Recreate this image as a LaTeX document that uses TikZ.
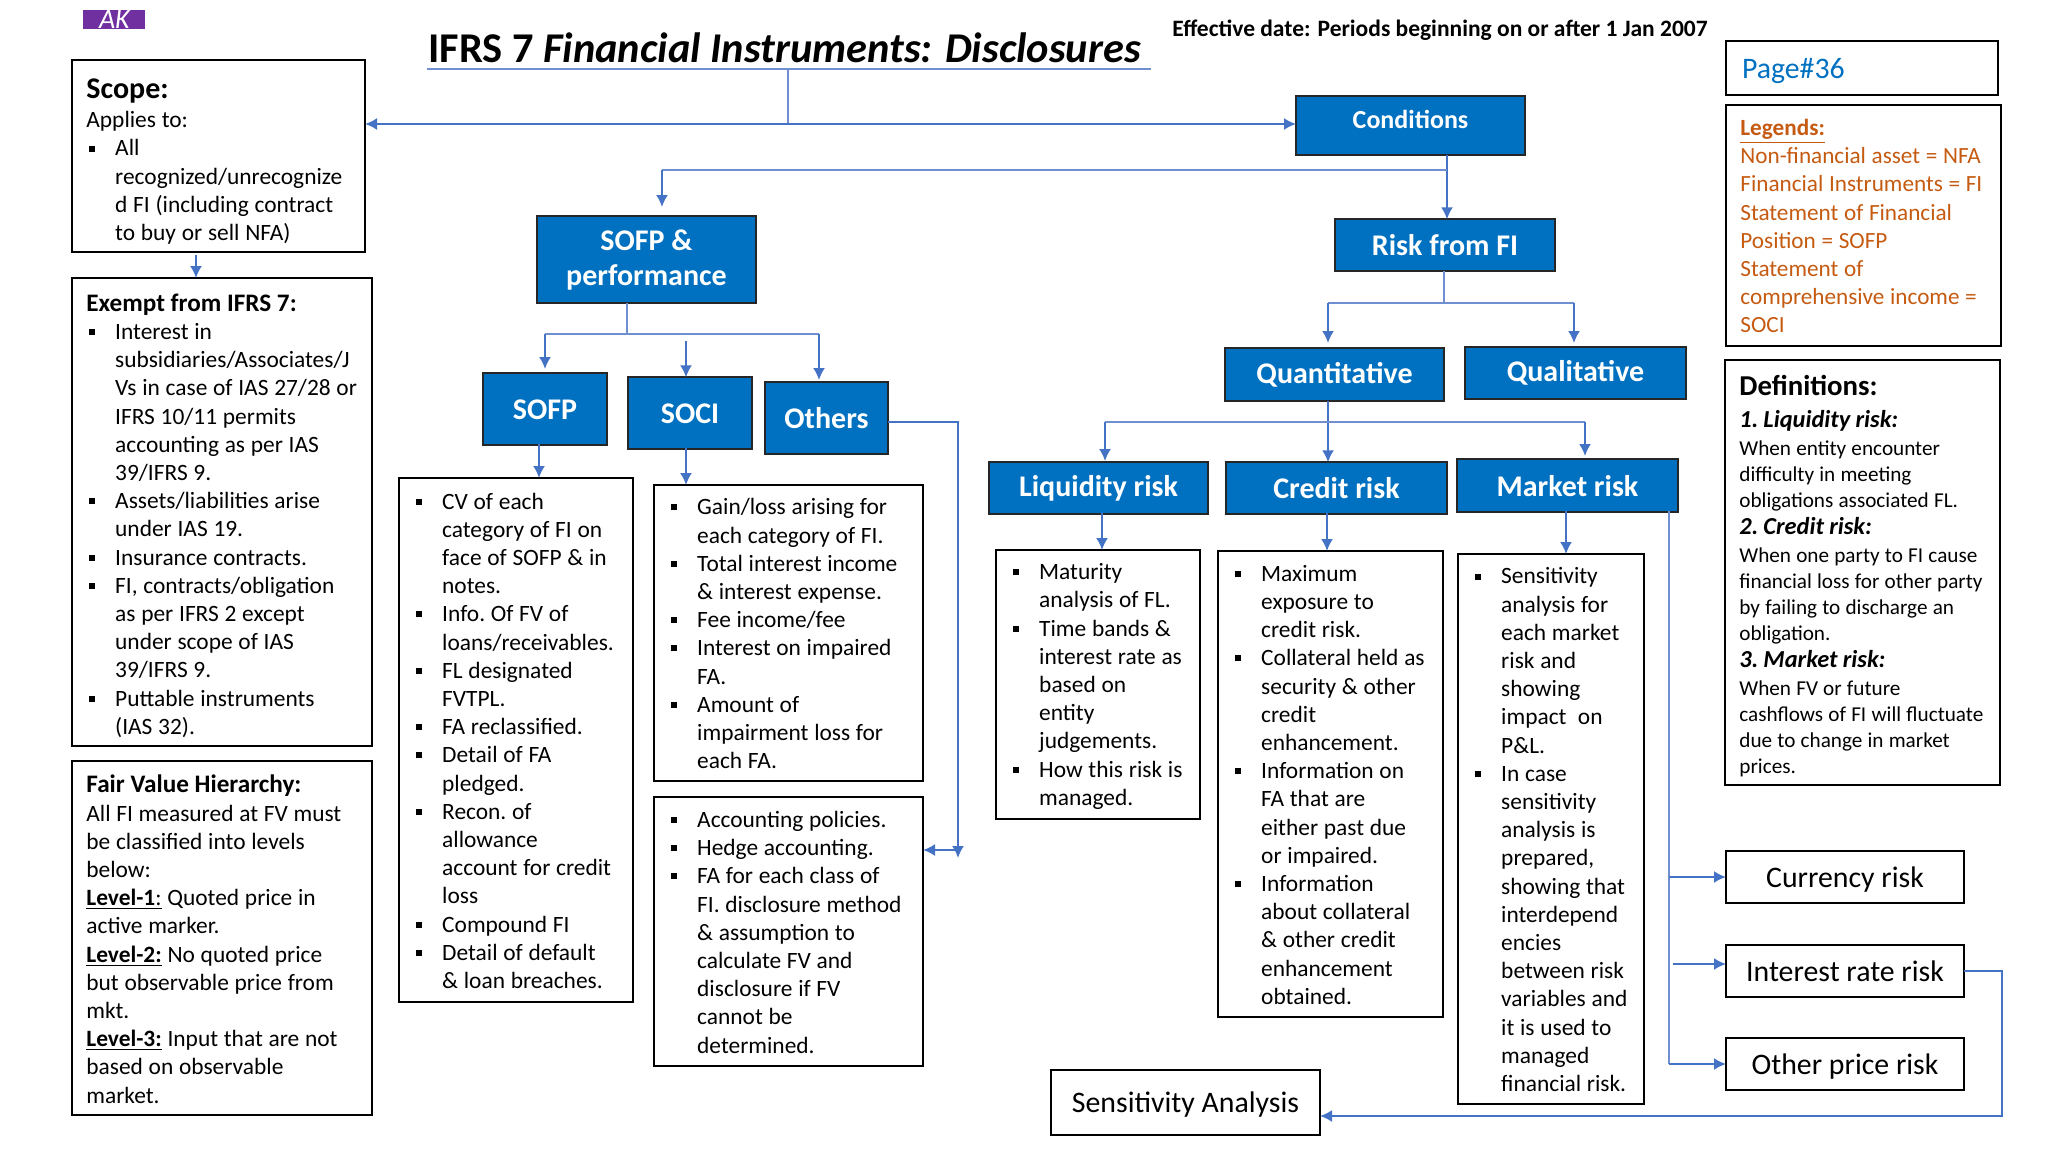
\documentclass[tikz,border=0pt]{standalone}
\usepackage{fontspec}
\setmainfont{Carlito}
\usetikzlibrary{calc,positioning,arrows.meta}
\definecolor{linkblue}{HTML}{4472C4}
\definecolor{thinblue}{HTML}{6F8FD0}
\definecolor{boxblue}{HTML}{0070C0}
\definecolor{legendorange}{HTML}{C55A11}
\definecolor{logopurple}{HTML}{7030A0}
\newcommand{\itm}{\makebox[14.4pt][l]{\hspace{1.2pt}\raisebox{2.2pt}{\rule{3pt}{3pt}}}}
\newcommand{\ind}{\hspace*{14.4pt}}
\newcommand{\hd}[1]{{\fontsize{12.6}{14.1}\selectfont\textbf{#1}}}
\newcommand{\dhd}[1]{{\fontsize{12.2}{14.1}\selectfont\textbf{\textit{#1}}}}
\tikzset{
  body/.style={font=\fontsize{11.7}{14.1}\selectfont},
  textbox/.style 2 args={draw=black,line width=1.3pt,anchor=north west,align=left,body,outer sep=0pt,
    inner xsep=2pt,inner ysep=0pt,text width=#1*0.5pt-4pt,minimum height=#2*0.5pt,
    execute at begin node={\leftskip=5.2pt\frenchspacing\spaceskip=0.245em\rule{0pt}{8.8pt}}},
  bluebox/.style 2 args={draw=black!85,fill=boxblue,text=white,line width=1.1pt,anchor=north west,align=center,outer sep=0pt,
    inner sep=0pt,yshift=-0.65pt,font=\fontsize{15}{17.5}\selectfont\bfseries,minimum width=#1*0.5pt,minimum height=#2*0.5pt},
  plainbox/.style 2 args={draw=black,line width=1.3pt,anchor=north west,inner sep=0pt,outer sep=0pt,
    text height=12.2pt,text depth=2.2pt,
    font=\fontsize{14.9}{16}\selectfont,minimum width=#1*0.5pt,minimum height=#2*0.5pt},
  link/.style={draw=thinblue,line width=0.7pt},
  arr/.style={draw=linkblue,line width=0.95pt,-{Latex[length=6pt,width=6pt]}}
}
\begin{document}
\begin{tikzpicture}[x=0.5pt,y=-0.5pt]
  \useasboundingbox (0,0) rectangle (2048,1152);
  \node[fill=logopurple,text=white,anchor=north west,inner sep=0pt,minimum width=31pt,minimum height=9.5pt,font=\fontsize{14}{14}\selectfont\itshape] (logo) at (83,10) {\raisebox{-4.5pt}[0pt][0pt]{AK}};
  \node[anchor=west,inner sep=0pt,font=\fontsize{21.2}{24}\selectfont\bfseries] (title) at (428,48) {IFRS 7 \textit{Financial Instruments: Disclosures}};
  \node[anchor=west,inner sep=0pt,font=\fontsize{11.75}{14}\selectfont\bfseries] (effective) at (1172,30) {Effective date: Periods beginning on or after 1 Jan 2007};
  \coordinate (ulL) at (427,69);
  \coordinate (ulR) at (1151,69);
  \draw[link] (ulL) -- (ulR);

  % left column
  \node[textbox={293}{192}] (scope) at (72,60) {\rule{0pt}{15.2pt}{\fontsize{15}{14.1}\selectfont\textbf{Scope:}}\\[0.7pt]Applies to:\\
    \itm All\\\ind recognized/unrecognize\\\ind d FI (including contract\\\ind to buy or sell NFA)};
  \node[textbox={300}{468}] (exempt) at (72,278) {\rule{0pt}{12.5pt}\hd{Exempt from IFRS 7:}\\
    \itm Interest in\\\ind subsidiaries/Associates/J\\\ind Vs in case of IAS 27/28 or\\\ind IFRS 10/11 permits\\\ind accounting as per IAS\\\ind 39/IFRS 9.\\
    \itm Assets/liabilities arise\\\ind under IAS 19.\\
    \itm Insurance contracts.\\
    \itm FI, contracts/obligation\\\ind as per IFRS 2 except\\\ind under scope of IAS\\\ind 39/IFRS 9.\\
    \itm Puttable instruments\\\ind (IAS 32).};
  \node[textbox={300}{354}] (fvh) at (72,761) {\rule{0pt}{10pt}\hd{Fair Value Hierarchy:}\\
    All FI measured at FV must\\be classified into levels\\below:\\
    \underline{\textbf{Level-1}:} Quoted price in\\active marker.\\
    \underline{\textbf{Level-2:}} No quoted price\\but observable price from\\mkt.\\
    \underline{\textbf{Level-3:}} Input that are not\\based on observable\\market.};

  % statement of financial position side
  \node[bluebox={219}{87}] (sofpperf) at (537,215) {SOFP \&\\performance};
  \node[bluebox={124}{72}] (sofp) at (483,372) {SOFP};
  \node[bluebox={124}{72}] (soci) at (628,376) {SOCI};
  \node[bluebox={123}{72}] (others) at (765,381) {Others};
  \node[textbox={234}{524}] (sofpbox) at (399,478) {
    \itm CV of each\\\ind category of FI on\\\ind face of SOFP \& in\\\ind notes.\\
    \itm Info. Of FV of\\\ind loans/receivables.\\
    \itm FL designated\\\ind FVTPL.\\
    \itm FA reclassified.\\
    \itm Detail of FA\\\ind pledged.\\
    \itm Recon. of\\\ind allowance\\\ind account for credit\\\ind loss\\
    \itm Compound FI\\
    \itm Detail of default\\\ind \& loan breaches.};
  \node[textbox={269}{296}] (socibox) at (654,485) {
    \itm Gain/loss arising for\\\ind each category of FI.\\
    \itm Total interest income\\\ind \& interest expense.\\
    \itm Fee income/fee\\
    \itm Interest on impaired\\\ind FA.\\
    \itm Amount of\\\ind impairment loss for\\\ind each FA.};
  \node[textbox={269}{269}] (othersbox) at (654,797) {
    \itm Accounting policies.\\
    \itm Hedge accounting.\\
    \itm FA for each class of\\\ind FI. disclosure method\\\ind \& assumption to\\\ind calculate FV and\\\ind disclosure if FV\\\ind cannot be\\\ind determined.};

  % risk side
  \node[bluebox={229}{59}] (conditions) at (1296,95) {\fontsize{13}{14}\selectfont\raisebox{6.6pt}{Conditions}};
  \node[bluebox={220}{52}] (riskfi) at (1335,218) {Risk from FI};
  \node[bluebox={219}{53}] (quant) at (1225,347) {Quantitative};
  \node[bluebox={221}{52}] (qual) at (1465,346) {Qualitative};
  \node[bluebox={219}{52}] (liq) at (989,461) {Liquidity risk};
  \node[bluebox={221}{52}] (credit) at (1226,461) {Credit risk};
  \node[bluebox={221}{53}] (market) at (1457,458) {Market risk};
  \node[textbox={204}{269}] (liqbox) at (996,550) {\rule{0pt}{10pt}%
    \itm Maturity\\\ind analysis of FL.\\
    \itm Time bands \&\\\ind interest rate as\\\ind based on\\\ind entity\\\ind judgements.\\
    \itm How this risk is\\\ind managed.};
  \node[textbox={225}{466}] (creditbox) at (1218,551) {
    \itm Maximum\\\ind exposure to\\\ind credit risk.\\
    \itm Collateral held as\\\ind security \& other\\\ind credit\\\ind enhancement.\\
    \itm Information on\\\ind FA that are\\\ind either past due\\\ind or impaired.\\
    \itm Information\\\ind about collateral\\\ind \& other credit\\\ind enhancement\\\ind obtained.};
  \node[textbox={186}{550}] (marketbox) at (1458,554) {
    \itm Sensitivity\\\ind analysis for\\\ind each market\\\ind risk and\\\ind showing\\\ind impact\ \ on\\\ind P\&L.\\
    \itm In case\\\ind sensitivity\\\ind analysis is\\\ind prepared,\\\ind showing that\\\ind interdepend\\\ind encies\\\ind between risk\\\ind variables and\\\ind it is used to\\\ind managed\\\ind financial risk.};
  \node[plainbox={269}{65}] (sens) at (1051,1070) {Sensitivity Analysis};
  \node[plainbox={238}{52}] (currency) at (1726,851) {Currency risk};
  \node[plainbox={238}{52}] (interest) at (1726,945) {Interest rate risk};
  \node[plainbox={238}{52}] (otherprice) at (1726,1038) {Other price risk};

  % right column
  \node[plainbox={272}{54},text=boxblue,align=left,text width=136pt-16pt,inner xsep=8pt] (page) at (1726,41) {Page\#36};
  \node[textbox={275}{241},text=legendorange,font=\fontsize{11.6}{14.1}\selectfont] (legends) at (1726,105) {\underline{\textbf{Legends:}}\\
    Non-financial asset = NFA\\Financial Instruments = FI\\Statement of Financial\\Position = SOFP\\Statement of\\comprehensive income =\\SOCI};
  \node[textbox={275}{425},font=\fontsize{10.6}{12.9}\selectfont] (defs) at (1725,360) {\rule{0pt}{13.7pt}{\fontsize{14.4}{14.1}\selectfont\textbf{Definitions:}}\\[3pt]
    \dhd{1. Liquidity risk:}\\[1pt]When entity encounter\\difficulty in meeting\\obligations associated FL.\\[1pt]
    \dhd{2. Credit risk:}\\[1pt]When one party to FI cause\\financial loss for other party\\by failing to discharge an\\obligation.\\[1pt]
    \dhd{3. Market risk:}\\[1pt]When FV or future\\cashflows of FI will fluctuate\\due to change in market\\prices.};

  % connectors
  \coordinate (trunk) at (788,124);
  \draw[link] (trunk |- ulL) -- (trunk);
  \draw[arr] (trunk) -- (scope.east |- trunk);
  \draw[arr] (trunk) -- (conditions.west |- trunk);
  \draw[arr] (196,255) coordinate (s1) -- (s1 |- exempt.north);

  \coordinate (c1) at (1447,170);
  \draw[arr] (c1 |- conditions.south) -- (c1 |- riskfi.north);
  \coordinate (c2) at (662,207);
  \draw[link] (c1) -- (c2 |- c1);
  \draw[arr] (c2 |- c1) -- (c2);

  \coordinate (p1) at (627,334);
  \coordinate (p2) at (545,369);
  \coordinate (p3) at (819,380);
  \draw[link] (p1 |- sofpperf.south) -- (p1);
  \draw[link] (p2 |- p1) -- (p3 |- p1);
  \draw[arr] (p2 |- p1) -- (p2);
  \draw[arr] (p3 |- p1) -- (p3);
  \draw[arr] (686,341) coordinate (p4) -- (p4 |- soci.north);
  \draw[arr] (539,444) coordinate (p5) -- (p5 |- sofpbox.north);
  \draw[arr] (686,448) coordinate (p6) -- (p6 |- socibox.north);

  \coordinate (o1) at (958,422);
  \coordinate (o2) at (958,850);
  \coordinate (o3) at (958,858);
  \draw[arr] (others.east |- o1) -- (o1) -- (o3);
  \draw[arr] (o2) -- (othersbox.east |- o2);

  \coordinate (r1) at (1444,303);
  \coordinate (r2) at (1328,343);
  \coordinate (r3) at (1574,343);
  \draw[link] (r1 |- riskfi.south) -- (r1);
  \draw[link] (r2 |- r1) -- (r3 |- r1);
  \draw[arr] (r2 |- r1) -- (r2);
  \draw[arr] (r3 |- r1) -- (r3);

  \coordinate (q1) at (1328,422);
  \coordinate (q2) at (1105,461);
  \coordinate (q3) at (1585,456);
  \draw[arr] (q1 |- quant.south) -- (q1 |- credit.north);
  \draw[link] (q2 |- q1) -- (q3 |- q1);
  \draw[arr] (q2 |- q1) -- (q2);
  \draw[arr] (q3 |- q1) -- (q3);
  \draw[arr] (1102,513) coordinate (l1) -- (l1 |- liqbox.north);
  \draw[arr] (1327,513) coordinate (l2) -- (l2 |- creditbox.north);
  \draw[arr] (1566,511) coordinate (l3) -- (l3 |- marketbox.north);

  \coordinate (m1) at (1669,511);
  \coordinate (m2) at (1669,1064);
  \draw[link] (m1) -- (m2);
  \draw[arr] (m1 |- currency.west) coordinate (m3) -- (currency.west |- m3);
  \draw[arr] (1673,964) coordinate (m4) -- (interest.west |- m4);
  \draw[arr] (m2) -- (otherprice.west |- m2);

  \coordinate (i1) at (2002,971);
  \coordinate (i2) at (2002,1116);
  \draw[arr] (interest.east |- i1) -- (i1) -- (i2) -- (sens.east |- i2);
\end{tikzpicture}
\end{document}
